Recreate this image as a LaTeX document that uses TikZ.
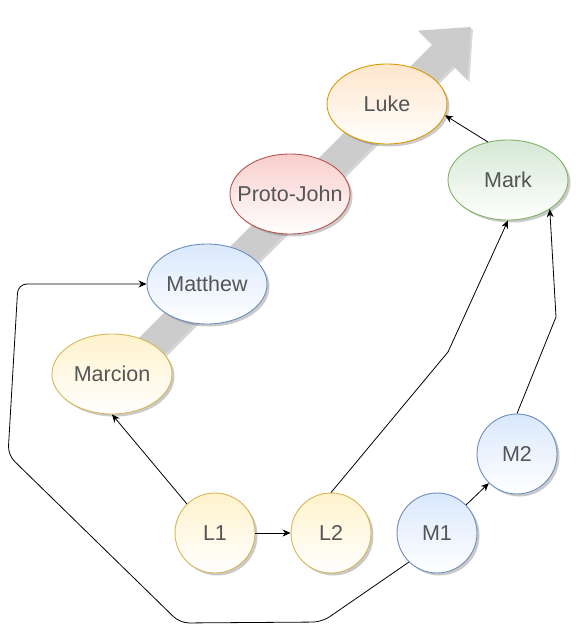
\documentclass[tikz,border=0pt]{standalone}
\usepackage{fontspec}
\setmainfont{Liberation Sans}
\usetikzlibrary{shapes.geometric,arrows.meta,shadows}
\definecolor{txt}{HTML}{555555}
\definecolor{orfill}{HTML}{FFE6CC}\definecolor{ordraw}{HTML}{D79B00}
\definecolor{rdfill}{HTML}{F8CECC}\definecolor{rddraw}{HTML}{B85450}
\definecolor{blfill}{HTML}{DAE8FC}\definecolor{bldraw}{HTML}{6C8EBF}
\definecolor{yefill}{HTML}{FFF2CC}\definecolor{yedraw}{HTML}{D6B656}
\definecolor{grfill}{HTML}{D5E8D4}\definecolor{grdraw}{HTML}{82B366}
\definecolor{bigarrow}{HTML}{CCCCCC}
\newcommand{\zbox}[1]{\makebox[0pt][c]{#1}}
\tikzset{
  base/.style={inner sep=0pt, line width=0.9pt, text=txt,
    font=\fontsize{21.5}{25}\selectfont,
    drop shadow={shadow xshift=2.5pt, shadow yshift=-2.5pt, opacity=0.35, fill=gray!80!black}},
  ell/.style={base, ellipse, minimum width=120pt, minimum height=80pt},
  circ/.style={base, circle, minimum size=80pt},
  orange/.style={draw=ordraw, top color=orfill, bottom color=white},
  red/.style={draw=rddraw, top color=rdfill, bottom color=white},
  blue/.style={draw=bldraw, top color=blfill, bottom color=white},
  yellow/.style={draw=yedraw, top color=yefill, bottom color=white},
  green/.style={draw=grdraw, top color=grfill, bottom color=white},
  conn/.style={draw=black, line width=0.8pt, -{Stealth[length=8pt,width=7pt]}},
}
\begin{document}
\begin{tikzpicture}[x=1pt,y=-1pt]
\useasboundingbox (0,0) rectangle (576,640);
% big gray arrow
\fill[bigarrow, drop shadow={shadow xshift=2pt, shadow yshift=-2pt, opacity=0.3}]
  (134.4,342.4) -- (432.1,44.7) -- (418,30.6) -- (471,27) -- (467.4,80)
  -- (453.3,65.9) -- (155.6,363.6) -- cycle;
% nodes
\node[ell, orange] (luke) at (387,104) {\zbox{Luke}};
\node[ell, red] (proto) at (290,194) {\zbox{Proto-John}};
\node[ell, blue] (matthew) at (207,284) {\zbox{Matthew}};
\node[ell, yellow] (marcion) at (112,374) {\zbox{Marcion}};
\node[ell, green] (mark) at (508,180) {\zbox{Mark}};
\node[circ, yellow] (l1) at (215,533) {L1};
\node[circ, yellow] (l2) at (331,533) {L2};
\node[circ, blue] (m1) at (437,533) {M1};
\node[circ, blue] (m2) at (517,454) {M2};
% connectors
\draw[conn] (mark.118) -- (luke.-11);
\draw[conn] (l1.134) -- (marcion.south);
\draw[conn] (l1.east) -- (l2.west);
\draw[conn] (l2.north) -- (448,352) -- (mark.south);
\draw[conn] (m2.north) -- (556,317) -- (mark.-35);
\draw[conn] (m1.44) -- (m2.226);
\draw[conn, rounded corners=9pt] (m1.226) -- (322,622) -- (180,623) -- (8,455) -- (18,284) -- (matthew.west);
\end{tikzpicture}
\end{document}
